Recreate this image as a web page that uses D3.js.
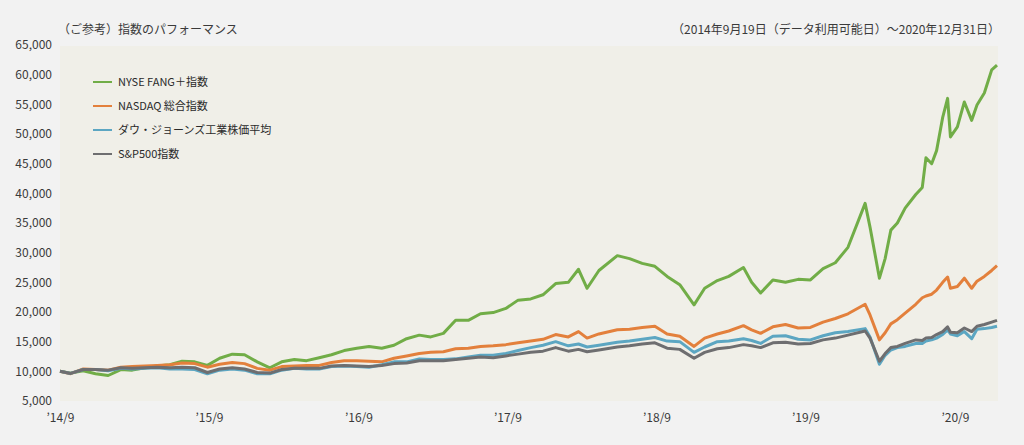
<!DOCTYPE html>
<html>
<head>
<meta charset="utf-8">
<script src="https://cdn.jsdelivr.net/npm/d3@7"></script>
<style>
  body { margin: 0; background: #f2f2f2; }
  svg { display: block; font-family: "Noto Sans CJK JP", "Noto Sans", sans-serif; }
</style>
</head>
<body>
<div id="chart"></div>
<script>
// dates the values were read at
var dates = ["2014-09-19","2014-10-15","2014-11-15","2014-12-15","2015-01-15","2015-02-15","2015-03-15","2015-04-15",
  "2015-05-15","2015-06-15","2015-07-15","2015-08-15","2015-09-15","2015-10-15","2015-11-15","2015-12-15",
  "2016-01-15","2016-02-15","2016-03-15","2016-04-15","2016-05-15","2016-06-15","2016-07-15","2016-08-15",
  "2016-09-15","2016-10-15","2016-11-15","2016-12-15","2017-01-15","2017-02-15","2017-03-15","2017-04-15",
  "2017-05-15","2017-06-15","2017-07-15","2017-08-15","2017-09-15","2017-10-15","2017-11-15","2017-12-15",
  "2018-01-15","2018-02-15","2018-03-12","2018-04-02","2018-05-01","2018-06-15","2018-07-15","2018-08-15",
  "2018-09-15","2018-10-15","2018-11-15","2018-12-20","2019-01-15","2019-02-15","2019-03-15","2019-04-20",
  "2019-05-10","2019-06-01","2019-07-01","2019-08-01","2019-09-01","2019-10-01","2019-11-01","2019-12-01",
  "2020-01-01","2020-02-12","2020-02-24","2020-03-18","2020-04-01","2020-04-15","2020-05-01","2020-05-20",
  "2020-06-15","2020-07-01","2020-07-10","2020-07-24","2020-08-05","2020-08-20","2020-09-01","2020-09-08",
  "2020-09-25","2020-10-12","2020-10-30","2020-11-12","2020-11-30","2020-12-18","2020-12-31"]

var fang = [10000,9700,10100,9600,9300,10300,10200,10600,10900,11100,11700,11600,11000,12200,12900,12800,
  11600,10600,11600,12000,11800,12300,12800,13500,13900,14200,13900,14400,15500,16100,15800,16400,
  18600,18600,19700,19900,20600,22000,22200,22900,24800,25000,27200,24000,27000,29500,29000,28200,
  27700,26000,24600,21200,24000,25300,26000,27500,25000,23200,25400,25000,25500,25400,27300,28300,
  30900,38300,34300,25700,29000,33800,35000,37500,39800,41000,46000,45000,47200,52800,56000,49500,
  51200,55400,52300,54900,56900,60800,61600]

var nasdaq = [10000,9600,10400,10300,10200,10700,10800,10900,11000,11100,11400,11300,10700,11200,11500,11300,
  10500,10200,10800,10900,11000,11000,11500,11800,11800,11700,11600,12200,12600,13000,13200,13300,
  13800,13900,14200,14300,14500,14800,15100,15400,16200,15800,16700,15600,16300,17000,17100,17400,
  17600,16300,15900,14200,15600,16300,16800,17700,17000,16400,17500,17900,17300,17400,18300,18900,
  19700,21300,19500,15300,16500,18000,18700,19800,21300,22400,22700,23000,23700,25000,25900,24000,
  24300,25700,24000,25200,26000,27000,27800]

var dow = [10000,9650,10300,10300,10100,10500,10400,10500,10600,10400,10400,10300,9600,10200,10400,10200,
  9600,9600,10200,10500,10400,10400,10800,10900,10800,10700,11100,11600,11600,12100,12000,12000,
  12100,12400,12700,12700,13000,13500,14000,14400,15000,14300,14600,14100,14400,14900,15100,15400,
  15700,15100,15000,13200,14100,15000,15100,15500,15200,14700,15900,16000,15400,15300,16000,16500,
  16700,17200,15800,11200,12700,13600,14000,14200,14700,14700,15100,15300,15600,16200,17000,16300,
  16000,16700,15500,17100,17200,17400,17600]

var sp500 = [10000,9650,10300,10300,10200,10600,10500,10600,10700,10600,10700,10600,9800,10400,10600,10400,
  9800,9700,10300,10500,10500,10500,10900,11000,10900,10800,11000,11300,11400,11800,11800,11800,
  12000,12200,12400,12300,12600,12900,13200,13400,14000,13400,13700,13300,13600,14100,14300,14600,
  14800,13900,13700,12200,13200,13800,14000,14500,14300,14000,14800,14900,14600,14700,15300,15600,
  16100,16800,15600,11700,13000,14000,14200,14700,15300,15200,15600,15700,16200,16700,17500,16600,
  16500,17300,16700,17600,17900,18300,18600]

var seriesNames = ["NYSE FANG＋指数", "NASDAQ 総合指数", "ダウ・ジョーンズ工業株価平均", "S&P500指数"]
var seriesColors = ["#71ad47", "#e3803c", "#5ca6c2", "#6e6e70"]
var yTicks = [5000,10000,15000,20000,25000,30000,35000,40000,45000,50000,55000,60000,65000]
var xTicks = ["2014-09-19","2015-09-19","2016-09-19","2017-09-19","2018-09-19","2019-09-19","2020-09-19"]

var width = 1024, height = 445

var parse = d3.timeParse("%Y-%m-%d")
var dateObjs = dates.map(parse)

var svg = d3.select("#chart")
  .append("svg")
  .attr("width", width)
  .attr("height", height)

// plot area
svg.append("rect")
  .attr("x", 60).attr("y", 46)
  .attr("width", 938).attr("height", 355)
  .attr("fill", "#f0efe8")

var x = d3.scaleTime()
  .domain([parse("2014-09-19"), parse("2020-12-31")])
  .range([60, 997])

var y = d3.scaleLinear()
  .domain([5000, 65000])
  .range([401, 45])

// axes
var yAxis = svg.append("g")
  .attr("transform", "translate(56,0)")
  .call(d3.axisLeft(y).tickValues(yTicks).tickSize(0).tickPadding(4).tickFormat(d3.format(",")))
yAxis.select(".domain").remove()
yAxis.selectAll("text")
  .attr("font-family", "'Noto Sans CJK JP', sans-serif")
  .attr("font-size", 12)
  .attr("fill", "#3a3a3a")

var xAxis = svg.append("g")
  .attr("transform", "translate(0,410)")
  .call(d3.axisBottom(x).tickValues(xTicks.map(parse)).tickSize(0).tickFormat(d3.timeFormat("’%y/%-m")))
xAxis.select(".domain").remove()
xAxis.selectAll("text")
  .attr("font-family", "'Noto Sans CJK JP', sans-serif")
  .attr("font-size", 12)
  .attr("fill", "#3a3a3a")

// lines
var allSeries = [fang, nasdaq, dow, sp500]
var line = d3.line()
  .x((d, i) => x(dateObjs[i]))
  .y(d => y(d))
  .curve(d3.curveLinear)

svg.selectAll(".series")
  .data(allSeries)
  .enter().append("path")
  .attr("class", "series")
  .attr("d", d => line(d))
  .attr("fill", "none")
  .attr("stroke", (d, i) => seriesColors[i])
  .attr("stroke-width", 3)
  .attr("stroke-linejoin", "round")

// legend
var legend = svg.append("g").attr("transform", "translate(93,82)")
seriesNames.forEach(function(name, i) {
  var g = legend.append("g").attr("transform", "translate(0," + (i * 24) + ")")
  g.append("line")
    .attr("x1", 0).attr("x2", 19)
    .attr("stroke", seriesColors[i])
    .attr("stroke-width", 2)
  g.append("text")
    .attr("x", 25).attr("y", 4)
    .attr("font-size", 11)
    .attr("fill", "#2a2a2a")
    .text(name)
})

// titles
svg.append("text")
  .attr("x", 58).attr("y", 34)
  .attr("font-size", 12)
  .attr("fill", "#3a3a3a")
  .text("（ご参考）指数のパフォーマンス")

svg.append("text")
  .attr("x", 1000).attr("y", 34)
  .attr("text-anchor", "end")
  .attr("font-size", 12)
  .attr("fill", "#3a3a3a")
  .text("（2014年9月19日（データ利用可能日）～2020年12月31日）")
</script>
</body>
</html>
